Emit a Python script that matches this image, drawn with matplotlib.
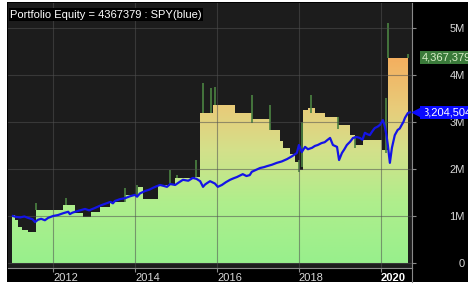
import numpy as np
import matplotlib
matplotlib.use("Agg")
import matplotlib.pyplot as plt
from matplotlib.colors import LinearSegmentedColormap
from matplotlib.patches import Rectangle
from matplotlib.lines import Line2D

plt.rcParams["font.family"] = ["Liberation Sans", "DejaVu Sans"]

# 1. Data (values in millions)
eq_years = [2011.0, 2011.07, 2011.15, 2011.24, 2011.39, 2011.59, 2012.24, 2012.54,
            2012.73, 2012.93, 2013.15, 2013.39, 2013.76, 2014.07, 2014.2, 2014.56,
            2014.98, 2015.46, 2015.59, 2015.9, 2016.44, 2016.85, 2017.29, 2017.54,
            2017.61, 2017.78, 2017.9, 2018.0, 2018.1, 2018.22, 2018.39, 2018.63,
            2018.95, 2019.24, 2019.37, 2019.56, 2020.02, 2020.17, 2020.66]
eq_values = [1.02, 0.91, 0.77, 0.70, 0.66, 1.13, 1.23, 1.06,
             0.98, 1.08, 1.19, 1.30, 1.45, 1.62, 1.36, 1.66,
             1.80, 1.83, 3.20, 3.37, 3.20, 3.06, 2.83, 2.60,
             2.45, 2.32, 2.15, 1.98, 3.26, 3.30, 3.19, 3.10,
             2.94, 2.72, 2.50, 2.62, 2.40, 4.367]

spike_years = [2011.59, 2012.32, 2013.76, 2014.05, 2014.85, 2015.03, 2015.5, 2015.66,
               2015.85, 2015.95, 2016.85, 2017.29, 2018.0, 2018.08, 2018.3, 2018.95,
               2019.37, 2020.13, 2020.17, 2020.66]
spike_lows = [1.13, 1.23, 1.30, 1.45, 1.66, 1.80, 1.83, 3.20,
              3.20, 3.37, 2.98, 2.83, 1.94, 2.05, 3.19, 2.85,
              2.45, 2.35, 4.36, 4.36]
spike_highs = [1.28, 1.38, 1.60, 1.66, 1.98, 1.87, 2.19, 3.83,
               3.72, 3.74, 3.57, 3.36, 2.20, 3.00, 3.57, 3.10,
               2.70, 3.50, 5.10, 4.45]

spy_years = [2011.02, 2011.1, 2011.2, 2011.3, 2011.39, 2011.5, 2011.56, 2011.63,
             2011.71, 2011.8, 2011.88, 2012.0, 2012.12, 2012.25, 2012.37, 2012.41,
             2012.47, 2012.54, 2012.66, 2012.78, 2012.88, 2013.02, 2013.15, 2013.27,
             2013.4, 2013.46, 2013.51, 2013.64, 2013.76, 2013.88, 2014.0, 2014.05,
             2014.12, 2014.24, 2014.35, 2014.44, 2014.52, 2014.61, 2014.7, 2014.78,
             2014.86, 2014.98, 2015.08, 2015.17, 2015.3, 2015.41, 2015.5, 2015.59,
             2015.66, 2015.71, 2015.76, 2015.83, 2015.88, 2015.95, 2016.02, 2016.12,
             2016.22, 2016.32, 2016.4, 2016.49, 2016.56, 2016.63, 2016.72, 2016.8,
             2016.85, 2016.95, 2017.05, 2017.15, 2017.22, 2017.34, 2017.46, 2017.58,
             2017.71, 2017.83, 2017.95, 2018.0, 2018.07, 2018.15, 2018.22, 2018.32,
             2018.39, 2018.46, 2018.55, 2018.63, 2018.7, 2018.76, 2018.83, 2018.88,
             2018.93, 2018.98, 2019.05, 2019.11, 2019.17, 2019.25, 2019.32, 2019.41,
             2019.49, 2019.55, 2019.61, 2019.67, 2019.73, 2019.79, 2019.85, 2019.92,
             2019.98, 2020.05, 2020.1, 2020.14, 2020.17, 2020.22, 2020.27, 2020.34,
             2020.41, 2020.46, 2020.51, 2020.55, 2020.59, 2020.66, 2020.71]
spy_values = [1.00, 0.98, 0.97, 0.99, 0.96, 0.93, 0.87, 0.92,
              0.94, 0.91, 0.96, 1.00, 1.02, 1.06, 1.09, 1.04,
              1.07, 1.09, 1.12, 1.15, 1.12, 1.17, 1.22, 1.26,
              1.30, 1.27, 1.32, 1.36, 1.38, 1.42, 1.45, 1.41,
              1.48, 1.53, 1.56, 1.60, 1.63, 1.66, 1.64, 1.62,
              1.68, 1.66, 1.72, 1.77, 1.75, 1.81, 1.79, 1.74,
              1.62, 1.67, 1.70, 1.74, 1.72, 1.69, 1.62, 1.66,
              1.72, 1.77, 1.80, 1.83, 1.86, 1.89, 1.85, 1.87,
              1.94, 1.98, 2.02, 2.04, 2.06, 2.09, 2.13, 2.16,
              2.21, 2.27, 2.34, 2.51, 2.36, 2.47, 2.42, 2.45,
              2.49, 2.51, 2.55, 2.57, 2.62, 2.66, 2.51, 2.49,
              2.47, 2.19, 2.34, 2.42, 2.51, 2.58, 2.66, 2.68,
              2.66, 2.62, 2.77, 2.74, 2.72, 2.80, 2.87, 2.90,
              2.94, 3.04, 2.89, 2.70, 2.51, 2.13, 2.45, 2.72,
              2.83, 2.86, 2.94, 3.00, 3.09, 3.19, 3.2045]

year_ticks = [2012, 2014, 2016, 2018, 2020]
value_ticks = [0, 1, 2, 3, 4, 5]
value_labels = ["0", "1M", "2M", "3M", "4M", "5M"]

final_equity = 4367379
final_spy = 3204504

# 2. Figure / panels
W, H = 474, 292
fig = plt.figure(figsize=(W / 100, H / 100), dpi=100, facecolor="white")
panel = fig.add_axes([7 / W, 10 / H, 461 / W, 280 / H])
panel.set_facecolor("black")
panel.set_xticks([])
panel.set_yticks([])
for s in panel.spines.values():
    s.set_visible(False)

ax = fig.add_axes([8 / W, 24 / H, 404 / W, 265 / H])
ax.set_facecolor("#1c1c1c")
x0, x1 = 2010.90, 2020.76
ax.set_xlim(x0, x1)
ax.set_ylim(-0.106, 5.53)

# 3. Equity area (step) with value-based gradient
ex = np.array(eq_years)
ev = np.array(eq_values)
step_x = np.repeat(ex, 2)[1:-1]
step_y = np.repeat(ev, 2)
poly = ax.fill_between(step_x, 0, step_y, facecolor="none", edgecolor="none")
cmap = LinearSegmentedColormap.from_list(
    "eq", [(0.0, "#98f08c"), (0.3, "#b0ee8c"), (0.55, "#d4e08a"),
           (0.75, "#e8cc7a"), (1.0, "#f4ae5e")])
grad = np.linspace(0, 1, 256).reshape(-1, 1)
im = ax.imshow(grad, extent=[x0, x1, 0, 4.4], origin="lower", aspect="auto",
               cmap=cmap, zorder=1)
im.set_clip_path(poly.get_paths()[0], transform=ax.transData)

ax.vlines(spike_years, spike_lows, spike_highs, color="#4c8442", lw=1.2, zorder=2)

# 4. Grid on top of the fill
for v in value_ticks:
    ax.axhline(v, color="#505050", alpha=0.55, lw=0.8, zorder=3)
for y in year_ticks:
    ax.axvline(y, color="#505050", alpha=0.55, lw=0.8, zorder=3)

# 5. SPY line
ax.plot(spy_years, spy_values, color="#1414e6", lw=1.6, zorder=4)

# 6. Axes styling
for side in ["left", "top"]:
    ax.spines[side].set_visible(False)
ax.spines["bottom"].set_color("#8a8a8a")
ax.spines["right"].set_color("#8a8a8a")
ax.set_xticks(year_ticks)
ax.set_xticklabels([str(y) for y in year_ticks])
ax.tick_params(axis="x", colors="#8a8a8a", labelcolor="#d8d8d8", length=3,
               width=0.8, pad=0.5, labelsize=8)
for lab in ax.get_xticklabels():
    lab.set_ha("left")
ax.get_xticklabels()[-1].set_color("white")
ax.get_xticklabels()[-1].set_fontweight("bold")

ax.yaxis.tick_right()
ax.set_yticks(value_ticks)
ax.set_yticklabels(value_labels)
ax.tick_params(axis="y", colors="#8a8a8a", labelcolor="#d8d8d8", length=3,
               width=0.8, pad=35, labelsize=8)
for lab in ax.get_yticklabels():
    lab.set_ha("right")

fig.add_artist(Line2D([412 / W, 412 / W], [10 / H, 24 / H], color="#8a8a8a",
                      lw=0.8, transform=fig.transFigure))

# 7. Title and last-value tags
ax.text(0.006, 0.975, f"Portfolio Equity = {final_equity} : SPY(blue)",
        transform=ax.transAxes, color="white", fontsize=8, va="top", ha="left",
        bbox=dict(facecolor="black", edgecolor="none", pad=1.0), zorder=6)

tr = ax.get_yaxis_transform()
ax.text(1.025, final_equity / 1e6, f"{final_equity:,}", transform=tr,
        color="#d8f0c8", fontsize=8, va="center", ha="left", clip_on=False,
        bbox=dict(facecolor="#3a7a3a", edgecolor="none", pad=1.2), zorder=6)
ax.text(1.025, final_spy / 1e6, f"{final_spy:,}", transform=tr,
        color="white", fontsize=8, va="center", ha="left", clip_on=False,
        bbox=dict(facecolor="#0a0aff", edgecolor="none", pad=1.2), zorder=6)
ax.plot([1.015], [final_spy / 1e6], marker="<", ms=8, color="#0a0aff",
        transform=tr, clip_on=False, zorder=6)

fig.add_artist(Rectangle((468 / W, 0), 6 / W, 1, transform=fig.transFigure,
                         facecolor="white", edgecolor="none", zorder=20))

fig.savefig("out.png", dpi=100, facecolor="white")
